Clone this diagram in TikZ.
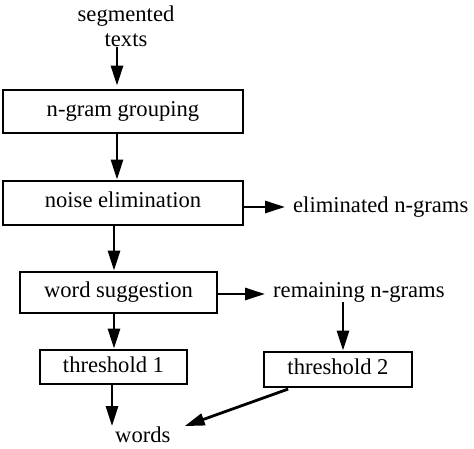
\documentclass[tikz,border=0pt]{standalone}
\usepackage{fontspec}
\setmainfont{Liberation Serif}
\usetikzlibrary{arrows.meta,calc}
\begin{document}
\begin{tikzpicture}[x=1pt,y=-1pt,
  box/.style={draw, line width=2.8pt, inner sep=0pt, text height=15pt, text depth=5pt},
  lbl/.style={inner sep=0pt},
  arr/.style={line width=2.8pt, -{Triangle[length=20pt,width=12pt]}},
  font=\fontsize{22.6}{25}\selectfont]
\useasboundingbox (0,0) rectangle (474,449);
% boxes
\node[box, minimum width=240pt, minimum height=43pt] (b1) at (123,111.5) {n-gram grouping};
\node[box, minimum width=240pt, minimum height=44pt] (b2) at (123,203) {noise elimination};
\node[box, minimum width=197pt, minimum height=41pt] (b3) at (118.5,292.5) {word suggestion};
\node[box, minimum width=147pt, minimum height=34pt] (t1) at (113.5,367) {threshold 1};
\node[box, minimum width=148pt, minimum height=35pt] (t2) at (338,369.5) {threshold 2};
% labels
\node[lbl, align=center, anchor=base] (seg) at (126,47) {segmented\\texts};
\node[lbl, anchor=base west] (elim) at (293,213) {eliminated n-grams};
\node[lbl, anchor=base west] (rem) at (273,297) {remaining n-grams};
\node[lbl, anchor=base west] (words) at (115,442) {words};
% helper coordinates
\coordinate (xa) at (117,0);
\coordinate (xb) at (114,0);
\coordinate (xc) at (112,0);
\coordinate (xd) at (343,0);
\coordinate (xe) at (290,0);
\coordinate (ye) at (0,207);
\coordinate (yr) at (0,294);
% connectors
\draw[arr, shorten >=3pt] (seg.south -| xa) -- (b1.north -| xa);
\draw[arr] (b1.south -| xa) -- (b2.north -| xa);
\draw[arr] (b2.south -| xb) -- (b3.north -| xb);
\draw[arr] (b3.south -| xb) -- (t1.north -| xb);
\draw[arr] (t1.south -| xc) -- (words.north -| xc);
\draw[arr, shorten >=8pt] (b2.east |- ye) -- (elim.west |- ye);
\draw[arr, shorten >=8pt] (b3.east |- yr) -- (rem.west |- yr);
\draw[arr] (rem.south -| xd) -- (t2.north -| xd);
\draw[arr, shorten <=2pt] (t2.south -| xe) -- ($(words.north east)+(14,0)$);
\end{tikzpicture}
\end{document}
